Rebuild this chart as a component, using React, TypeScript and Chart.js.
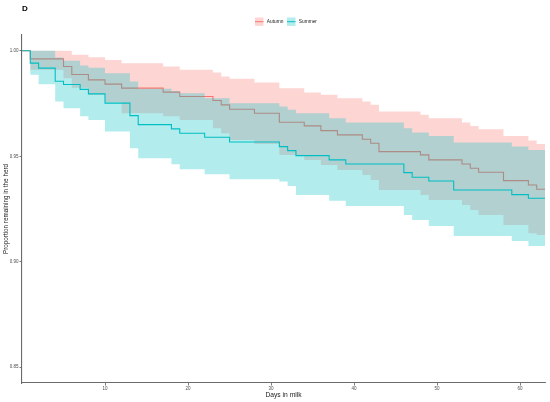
import React, { useEffect, useRef } from 'react';
import { Chart, registerables } from 'chart.js';

Chart.register(...registerables);

// ---- Data ----
const X_MIN = 0;
const X_MAX = 63;
const Y_MIN = 0.8425;
const Y_MAX = 1.0075;
const xTickValues = [10, 20, 30, 40, 50, 60];
const yTickValues = [0.85, 0.9, 0.95, 1.0];

const autumnDays = [0, 1, 5, 6, 8, 10, 12, 17, 19, 23, 24, 25, 28, 31, 34, 36, 38, 41, 42, 43, 48, 49, 53, 54, 55, 58, 61, 62];
const autumnEst = [1, 0.9962, 0.99255, 0.9888, 0.98624, 0.98419, 0.9823, 0.9804, 0.97832, 0.97642, 0.97437, 0.97233, 0.97043, 0.96616, 0.9644, 0.96218, 0.96013, 0.95809, 0.95619, 0.95222, 0.95064, 0.94827, 0.94637, 0.94432, 0.94242, 0.93845, 0.9364, 0.93436];
const autumnUpper = [1, 1, 1, 0.9981, 0.997, 0.9956, 0.99416, 0.99255, 0.99098, 0.9897, 0.9878, 0.98671, 0.98496, 0.9823, 0.98022, 0.97912, 0.97755, 0.97596, 0.97437, 0.97121, 0.96963, 0.96806, 0.96599, 0.9644, 0.96284, 0.95966, 0.95743, 0.95586];
const autumnLower = [1, 0.99098, 0.98704, 0.98244, 0.97912, 0.97556, 0.97043, 0.969, 0.9672, 0.9633, 0.96094, 0.95776, 0.95586, 0.95064, 0.94827, 0.94589, 0.94352, 0.94115, 0.93878, 0.93403, 0.93166, 0.92928, 0.92691, 0.92454, 0.92216, 0.91742, 0.91346, 0.91267];

const summerDays = [0, 1, 2, 4, 5, 7, 8, 10, 13, 14, 18, 19, 22, 25, 31, 32, 33, 37, 39, 46, 47, 49, 52, 59, 61];
const summerEst = [1, 0.99416, 0.99179, 0.9856, 0.984, 0.9817, 0.97959, 0.97518, 0.96929, 0.965, 0.96298, 0.96094, 0.95904, 0.9568, 0.95458, 0.95269, 0.95032, 0.94827, 0.94637, 0.94224, 0.94005, 0.9383, 0.93403, 0.9318, 0.93009];
const summerUpper = [1, 1, 1, 0.99682, 0.99525, 0.993, 0.992, 0.98942, 0.98543, 0.98206, 0.981, 0.97992, 0.97755, 0.97517, 0.97359, 0.972, 0.97043, 0.96806, 0.96599, 0.9633, 0.96123, 0.95966, 0.9565, 0.95458, 0.95301];
const summerLower = [1, 0.98861, 0.9842, 0.976, 0.9728, 0.969, 0.96725, 0.9617, 0.95382, 0.94907, 0.94622, 0.94385, 0.94148, 0.93911, 0.938, 0.93593, 0.93166, 0.92895, 0.92644, 0.92216, 0.91979, 0.91694, 0.9122, 0.90982, 0.90745];

const titleText = 'D';
const seriesNames = ['Autumn', 'Summer'];
const xTitle = 'Days in milk';
const yTitle = 'Proportion remaining in the herd';

const AUTUMN_LINE = '#F8766D';
const AUTUMN_FILL = 'rgba(248,118,109,0.3)';
const SUMMER_LINE = '#00BFC4';
const SUMMER_FILL = 'rgba(0,191,196,0.3)';
const FONT = '"Liberation Sans", Arial, Helvetica, sans-serif';

function toPoints(days: number[], vals: number[]) {
  const p = days.map((d, i) => ({ x: d, y: vals[i] }));
  p.push({ x: X_MAX, y: vals[vals.length - 1] });
  return p;
}

const overlayPlugin = {
  id: 'overlayText',
  afterDraw(chart: any) {
    const ctx = chart.ctx as CanvasRenderingContext2D;
    ctx.save();
    ctx.fillStyle = '#000000';
    ctx.font = `bold 8px ${FONT}`;
    ctx.textAlign = 'left';
    ctx.textBaseline = 'alphabetic';
    ctx.fillText(titleText, 22, 10.5);

    const items = [
      { label: seriesNames[0], line: AUTUMN_LINE, fill: AUTUMN_FILL, x: 255 },
      { label: seriesNames[1], line: SUMMER_LINE, fill: SUMMER_FILL, x: 287 },
    ];
    const cy = 21.7;
    ctx.font = `4.8px ${FONT}`;
    ctx.textBaseline = 'middle';
    for (const it of items) {
      ctx.fillStyle = it.fill;
      ctx.fillRect(it.x, cy - 4.2, 8.5, 8.4);
      ctx.strokeStyle = it.line;
      ctx.lineWidth = 1;
      ctx.beginPath();
      ctx.moveTo(it.x, cy);
      ctx.lineTo(it.x + 8.5, cy);
      ctx.stroke();
      ctx.fillStyle = '#1a1a1a';
      ctx.fillText(it.label, it.x + 11.8, cy);
    }
    ctx.restore();
  },
};

export default function App() {
  const canvasRef = useRef<HTMLCanvasElement | null>(null);

  useEffect(() => {
    if (!canvasRef.current) return;
    const common = { pointRadius: 0, pointHoverRadius: 0, stepped: true as const, tension: 0 };
    const chart = new Chart(canvasRef.current, {
      type: 'line',
      data: {
        datasets: [
          {
            ...common,
            label: 'Autumn',
            data: toPoints(autumnDays, autumnEst),
            borderColor: AUTUMN_LINE,
            borderWidth: 1.1,
            fill: false,
            order: 3,
          },
          {
            ...common,
            label: 'Autumn upper',
            data: toPoints(autumnDays, autumnUpper),
            borderWidth: 0,
            borderColor: 'rgba(0,0,0,0)',
            backgroundColor: AUTUMN_FILL,
            fill: '+1',
            order: 4,
          },
          {
            ...common,
            label: 'Autumn lower',
            data: toPoints(autumnDays, autumnLower),
            borderWidth: 0,
            borderColor: 'rgba(0,0,0,0)',
            fill: false,
            order: 5,
          },
          {
            ...common,
            label: 'Summer',
            data: toPoints(summerDays, summerEst),
            borderColor: SUMMER_LINE,
            borderWidth: 1.1,
            fill: false,
            order: 0,
          },
          {
            ...common,
            label: 'Summer upper',
            data: toPoints(summerDays, summerUpper),
            borderWidth: 0,
            borderColor: 'rgba(0,0,0,0)',
            backgroundColor: SUMMER_FILL,
            fill: '+1',
            order: 1,
          },
          {
            ...common,
            label: 'Summer lower',
            data: toPoints(summerDays, summerLower),
            borderWidth: 0,
            borderColor: 'rgba(0,0,0,0)',
            fill: false,
            order: 2,
          },
        ],
      },
      options: {
        animation: false,
        responsive: true,
        maintainAspectRatio: false,
        layout: { padding: { top: 35, right: 5, bottom: 0, left: 0 } },
        plugins: {
          legend: { display: false },
          title: { display: false },
          tooltip: { enabled: false },
        },
        scales: {
          x: {
            type: 'linear',
            min: X_MIN,
            max: X_MAX,
            afterBuildTicks: (scale: any) => {
              scale.ticks = xTickValues.map((v) => ({ value: v }));
            },
            afterFit: (scale: any) => {
              scale.height = 19;
            },
            ticks: {
              font: { family: FONT, size: 4.5 },
              color: '#4d4d4d',
              padding: 0.8,
              maxRotation: 0,
              autoSkip: false,
              callback: (v: any) => String(v),
            },
            grid: { drawOnChartArea: false, drawTicks: true, tickLength: 2.5, color: '#555555', lineWidth: 0.8 },
            border: { display: true, color: '#6a6a6a', width: 1.1 },
            title: {
              display: true,
              text: xTitle,
              font: { family: FONT, size: 6.7 },
              color: '#1a1a1a',
              padding: { top: 0, bottom: 2.5 },
            },
          },
          y: {
            type: 'linear',
            min: Y_MIN,
            max: Y_MAX,
            afterBuildTicks: (scale: any) => {
              scale.ticks = yTickValues.map((v) => ({ value: v }));
            },
            afterFit: (scale: any) => {
              scale.width = 22;
            },
            ticks: {
              font: { family: FONT, size: 4.5 },
              color: '#4d4d4d',
              padding: 1,
              autoSkip: false,
              callback: (v: any) => Number(v).toFixed(2),
            },
            grid: { drawOnChartArea: false, drawTicks: true, tickLength: 2.5, color: '#555555', lineWidth: 0.8 },
            border: { display: true, color: '#6a6a6a', width: 1.1 },
            title: {
              display: true,
              text: yTitle,
              font: { family: FONT, size: 6.3 },
              color: '#1a1a1a',
              padding: { top: 2.2, bottom: 0 },
            },
          },
        },
      },
      plugins: [overlayPlugin],
    });
    return () => chart.destroy();
  }, []);

  return (
    <div style={{ position: 'fixed', left: 0, top: 0, width: 550, height: 402, background: '#ffffff' }}>
      <canvas ref={canvasRef} />
    </div>
  );
}
